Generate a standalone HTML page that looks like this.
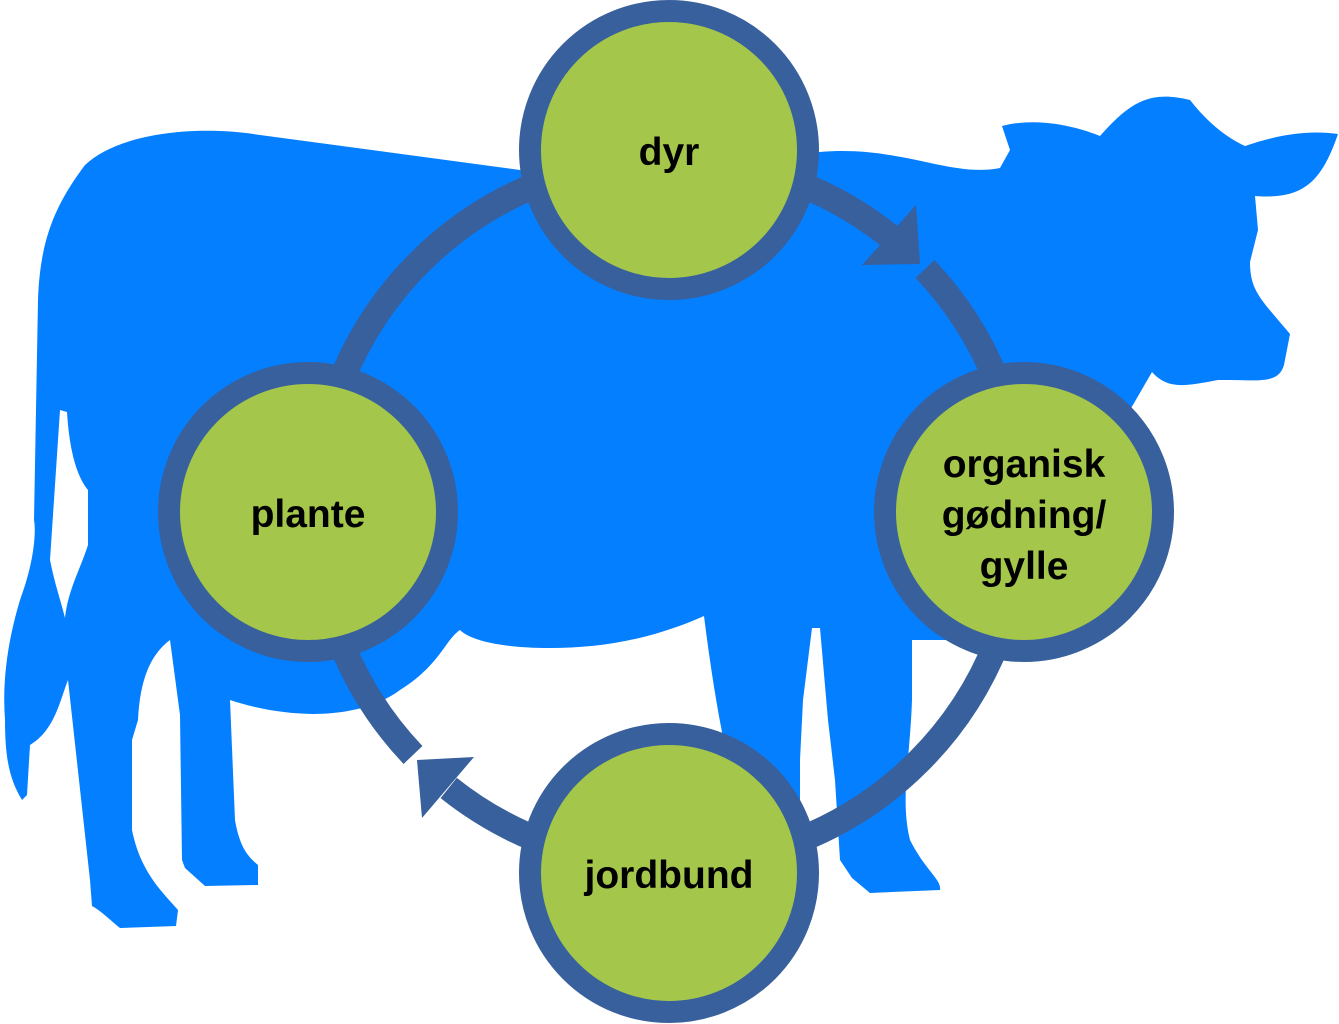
<!DOCTYPE html>
<html><head><meta charset="utf-8"><style>html,body{margin:0;padding:0;background:#fff}svg{display:block}</style></head>
<body>
<svg width="1339" height="1024" viewBox="0 0 1339 1024" xmlns="http://www.w3.org/2000/svg">
<path fill="#047fff" fill-rule="evenodd" d="M85,165 C120,132 200,125 260,135 L520,170 L820,152 C900,145 950,178 1000,168 L1010,150 L1002,126 C1040,116 1080,128 1100,136 C1130,102 1150,90 1190,100 C1212,128 1232,140 1245,146 C1280,134 1310,130 1338,134 C1322,180 1305,200 1255,196 L1258,230 L1250,262 C1250,292 1262,300 1290,334 L1284,365 C1278,384 1262,380 1218,380 C1186,386 1168,390 1152,372 L1130,410 L1040,640 L912,640 L912,700 C910,760 900,800 910,840 C925,870 942,880 940,890 L870,893 L852,878 L840,860 L835,780 L828,720 L820,628 L812,628 L803,700 L800,760 L800,840 L798,900 L780,890 L735,790 C722,740 712,680 704,616 C650,640 600,648 550,648 C500,648 470,640 460,630 C445,640 440,665 400,690 C360,720 290,720 230,700 L235,820 C240,850 250,858 258,865 L258,885 L205,886 L185,868 L182,860 L180,715 L170,640 C150,655 140,680 138,720 L132,740 L132,830 C140,870 160,890 178,910 L176,926 L120,928 C110,920 100,910 92,906 L90,880 L68,680 C60,700 55,730 30,745 L27,795 L22,800 C10,780 5,760 5,720 C2,680 8,640 20,600 C35,560 36,530 34,520 L38,300 C40,240 55,205 85,165 Z M60,410 L67,412 C70,460 80,480 88,490 L88,545 C80,570 68,590 65,618 C60,598 55,585 50,560 Z"/>
<g fill="none" stroke="#38609c" stroke-width="26">
<path d="M669,159 A353,353 0 0 1 889.3,236"/>
<path d="M925,269 A353,353 0 0 1 1022,512"/>
<path d="M1022,512 A353,353 0 0 1 669,865"/>
<path d="M669,865 A353,353 0 0 1 448.7,788"/>
<path d="M413,755 A353,353 0 0 1 316,512"/>
<path d="M316,512 A353,353 0 0 1 669,159"/>
</g>
<polygon fill="#38609c" points="862,265 916,205 920,264"/>
<polygon fill="#38609c" points="474,757 422,818 417,760"/>
<g fill="#a4c64a" stroke="#38609c" stroke-width="22">
<circle cx="669" cy="150" r="139"/>
<circle cx="308" cy="512" r="139"/>
<circle cx="1024" cy="512" r="139"/>
<circle cx="669" cy="873" r="139"/>
</g>
<g font-family="Liberation Sans, sans-serif" font-weight="bold" font-size="39" fill="#000" text-anchor="middle">
<text x="669" y="165">dyr</text>
<text x="308" y="527">plante</text>
<text x="1024" y="477">organisk</text>
<text x="1024" y="528">gødning/</text>
<text x="1024" y="579">gylle</text>
<text x="669" y="888">jordbund</text>
</g>
</svg>
</body></html>
